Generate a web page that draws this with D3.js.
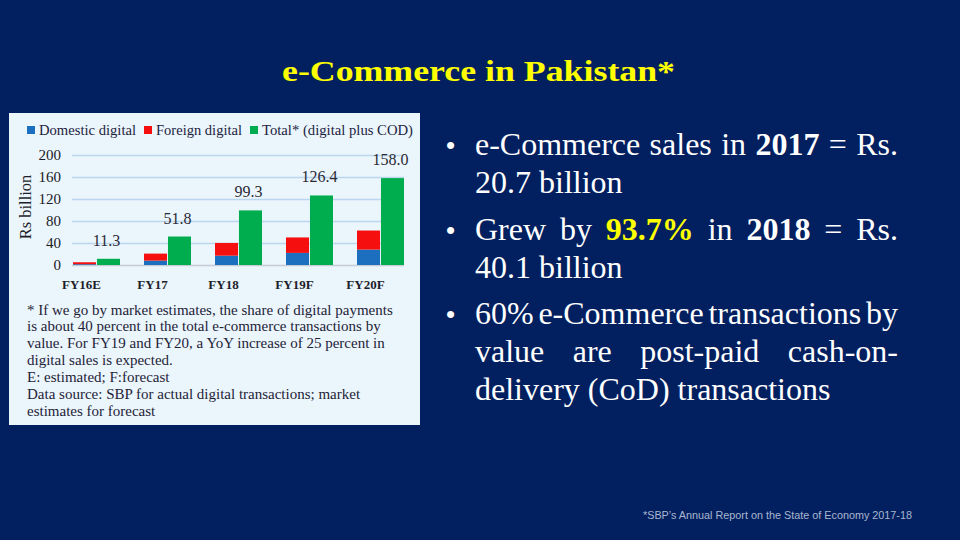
<!DOCTYPE html>
<html>
<head>
<meta charset="utf-8">
<script src="https://cdn.jsdelivr.net/npm/d3@7"></script>
<style>
  html, body { margin: 0; padding: 0; background: #022060; }
  svg { display: block; }
</style>
</head>
<body>
<div id="slide"></div>
<script>
// values (Rs billion)
const categories = ['FY16E', 'FY17', 'FY18', 'FY19F', 'FY20F'];
const domesticDigital = [1.5, 8.0, 17.0, 22.0, 28.0];
const foreignDigital = [3.5, 12.7, 23.1, 28.1, 34.7];
const totalSales = [11.3, 51.8, 99.3, 126.4, 158.0];
const yTicks = [0, 40, 80, 120, 160, 200];
const legendLabels = ['Domestic digital', 'Foreign digital', 'Total* (digital plus COD)'];

const noteLines = [
  '* If we go by market estimates, the share of digital payments',
  'is about 40 percent in the total e-commerce transactions by',
  'value. For FY19 and FY20, a YoY increase of 25 percent in',
  'digital sales is expected.',
  'E: estimated; F:forecast',
  'Data source: SBP for actual digital transactions; market',
  'estimates for forecast'
];

// bullet text, one entry per printed line: [words, bullet?, justified?]
// a word is [text, style] where style is '' | 'b' (bold) | 'y' (bold yellow)
const bulletLines = [
  [[['e-Commerce', ''], ['sales', ''], ['in', ''], ['2017', 'b'], ['=', ''], ['Rs.', '']], true, true],
  [[['20.7', ''], ['billion', '']], false, false],
  [[['Grew', ''], ['by', ''], ['93.7%', 'y'], ['in', ''], ['2018', 'b'], ['=', ''], ['Rs.', '']], true, true],
  [[['40.1', ''], ['billion', '']], false, false],
  [[['60%', ''], ['e-Commerce', ''], ['transactions', ''], ['by', '']], true, true],
  [[['value', ''], ['are', ''], ['post-paid', ''], ['cash-on-', '']], false, true],
  [[['delivery', ''], ['(CoD)', ''], ['transactions', '']], false, false]
];

const width = 960;
const height = 540;
const serif = '"Liberation Serif", "Times New Roman", serif';

const svg = d3.select('#slide')
              .append('svg')
              .attr('width', width)
              .attr('height', height);

svg.append('rect')
   .attr('width', width)
   .attr('height', height)
   .attr('fill', '#022060');

// title
svg.append('text')
   .attr('x', 282)
   .attr('y', 81)
   .attr('textLength', 393)
   .attr('lengthAdjust', 'spacingAndGlyphs')
   .attr('font-family', serif)
   .attr('font-weight', 'bold')
   .attr('font-size', 29)
   .attr('fill', '#ffff00')
   .text('e-Commerce in Pakistan*');

// ---- chart panel ----
const panel = svg.append('g');

panel.append('rect')
     .attr('x', 9)
     .attr('y', 113)
     .attr('width', 411)
     .attr('height', 312)
     .attr('fill', '#eaf5fc');

const colors = ['#1c6fbe', '#f50f0f', '#00ad4e'];

// legend
const legendX = [[27, 39, 97], [144, 156, 86], [250, 262, 151]];
legendLabels.forEach((label, i) => {
  panel.append('rect')
       .attr('x', legendX[i][0])
       .attr('y', 126)
       .attr('width', 8)
       .attr('height', 8)
       .attr('fill', colors[i]);
  panel.append('text')
       .attr('x', legendX[i][1])
       .attr('y', 135)
       .attr('textLength', legendX[i][2])
       .attr('lengthAdjust', 'spacingAndGlyphs')
       .attr('font-family', serif)
       .attr('font-size', 14.5)
       .attr('fill', '#1d2240')
       .text(label);
});

// scales
const xScale = d3.scaleBand()
                 .domain(categories)
                 .range([46, 401]);

const xInner = d3.scaleBand()
                 .domain(['digital', 'total'])
                 .range([27, 74])
                 .paddingInner(0.04);

const yScale = d3.scaleLinear()
                 .domain([0, 200])
                 .range([265, 155]);

// y axis with gridlines
const yAxis = panel.append('g')
                   .attr('transform', 'translate(404, 0)')
                   .call(
                     d3.axisLeft(yScale)
                       .tickValues(yTicks)
                       .tickSize(332)
                       .tickPadding(11)
                   );
yAxis.select('.domain').remove();
yAxis.selectAll('line')
     .attr('stroke', d => d === 0 ? '#c6ccd4' : '#bcd6ee')
     .attr('stroke-width', 1.6);
yAxis.selectAll('text')
     .attr('font-family', serif)
     .attr('font-size', 15)
     .attr('fill', '#1a1a26');

// x axis labels
const xAxis = panel.append('g')
                   .attr('transform', 'translate(0, 265)')
                   .call(
                     d3.axisBottom(xScale)
                       .tickSize(0)
                       .tickPadding(15)
                   );
xAxis.select('.domain').remove();
xAxis.selectAll('text')
     .attr('font-family', serif)
     .attr('font-weight', 'bold')
     .attr('font-size', 13)
     .attr('fill', '#1e1e2a');

// stacked digital bars
const stacked = d3.stack().keys([0, 1])(
  categories.map((c, i) => [domesticDigital[i], foreignDigital[i]])
);

stacked.forEach((layer, k) => {
  panel.append('g')
       .selectAll('rect')
       .data(layer)
       .join('rect')
       .attr('x', (d, i) => xScale(categories[i]) + xInner('digital'))
       .attr('y', d => yScale(d[1]))
       .attr('width', xInner.bandwidth())
       .attr('height', d => yScale(d[0]) - yScale(d[1]))
       .attr('fill', colors[k]);
});

// total bars
panel.append('g')
     .selectAll('rect')
     .data(totalSales)
     .join('rect')
     .attr('x', (d, i) => xScale(categories[i]) + xInner('total'))
     .attr('y', d => yScale(d))
     .attr('width', xInner.bandwidth())
     .attr('height', d => yScale(0) - yScale(d))
     .attr('fill', colors[2]);

// total value labels
panel.append('g')
     .selectAll('text')
     .data(totalSales)
     .join('text')
     .attr('x', (d, i) => xScale(categories[i]) + xInner('total') + xInner.bandwidth() / 2 - 2)
     .attr('y', d => yScale(d) - 13)
     .attr('text-anchor', 'middle')
     .attr('font-family', serif)
     .attr('font-size', 16)
     .attr('fill', '#2a2a35')
     .text(d => d.toFixed(1));

// y axis title
panel.append('text')
     .attr('transform', 'translate(31, 207) rotate(-90)')
     .attr('text-anchor', 'middle')
     .attr('font-family', serif)
     .attr('font-size', 16.5)
     .attr('fill', '#1e1e2a')
     .text('Rs billion');

// footnote inside the panel
panel.append('g')
     .selectAll('text')
     .data(noteLines)
     .join('text')
     .attr('x', 27)
     .attr('y', (d, i) => 314.5 + i * 16.9)
     .attr('font-family', serif)
     .attr('font-size', 15)
     .attr('fill', '#1f2338')
     .text(d => d);

// ---- bullet text on the right ----
const textLeft = 475;
const textRight = 898;
const lineY = [155, 193, 240, 278, 324, 362, 400];

bulletLines.forEach(([words, bullet, justify], li) => {
  const g = svg.append('g');
  if (bullet) {
    g.append('text')
     .attr('x', 446)
     .attr('y', lineY[li] - 1)
     .attr('font-family', '"Liberation Sans", Arial, sans-serif')
     .attr('font-size', 26)
     .attr('fill', '#ffffff')
     .text('•');
  }
  const nodes = words.map(([t, s]) =>
    g.append('text')
     .attr('y', lineY[li])
     .attr('font-family', serif)
     .attr('font-size', 32)
     .attr('font-weight', s ? 'bold' : 'normal')
     .attr('fill', s === 'y' ? '#ffff00' : '#ffffff')
     .text(t)
  );
  const widths = nodes.map(n => n.node().getComputedTextLength());
  const gap = justify ? (textRight - textLeft - d3.sum(widths)) / (words.length - 1) : 8;
  let x = textLeft;
  nodes.forEach((n, i) => {
    n.attr('x', x);
    x += widths[i] + gap;
  });
});

// source note
svg.append('text')
   .attr('x', 643)
   .attr('y', 519)
   .attr('textLength', 269)
   .attr('lengthAdjust', 'spacingAndGlyphs')
   .attr('font-family', '"Liberation Sans", Arial, sans-serif')
   .attr('font-size', 11)
   .attr('fill', '#aab6cf')
   .text('*SBP’s Annual Report on the State of Economy 2017-18');
</script>
</body>
</html>
